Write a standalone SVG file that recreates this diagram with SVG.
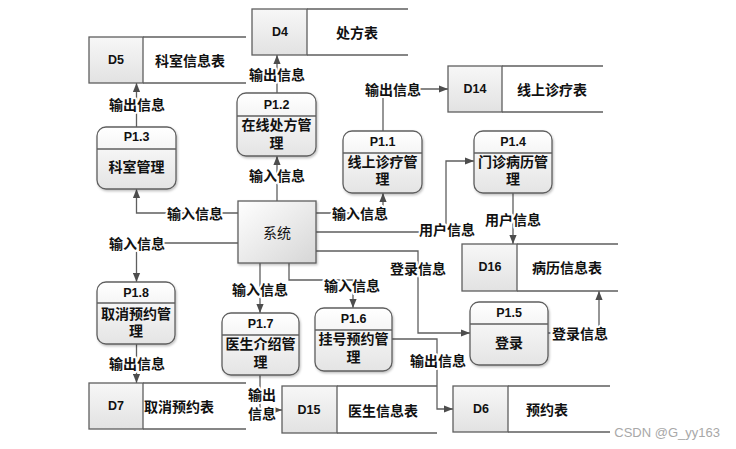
<svg xmlns="http://www.w3.org/2000/svg" width="736" height="449" viewBox="0 0 736 449">
<defs>
<linearGradient id="gp" x1="0" y1="0" x2="0" y2="1"><stop offset="0" stop-color="#ffffff"/><stop offset="1" stop-color="#e4e4e4"/></linearGradient>
<linearGradient id="gs" x1="0" y1="0" x2="1" y2="1"><stop offset="0" stop-color="#ffffff"/><stop offset="1" stop-color="#d6d6d6"/></linearGradient>
<linearGradient id="gd" x1="0" y1="0" x2="0" y2="1"><stop offset="0" stop-color="#f7f7f7"/><stop offset="1" stop-color="#e2e2e2"/></linearGradient>
<filter id="sh" x="-10%" y="-10%" width="130%" height="130%"><feDropShadow dx="1" dy="1.5" stdDeviation="1" flood-color="#000" flood-opacity="0.25"/></filter>
<marker id="ar" viewBox="0 0 10 8" refX="10" refY="4" markerWidth="9" markerHeight="8" markerUnits="userSpaceOnUse" orient="auto"><path d="M0,0 L10,4 L0,8 z" fill="#4d4d4d"/></marker>
<style>
.pr{fill:url(#gp);stroke:#5f5f5f;stroke-width:1.3;filter:url(#sh)}
.sy{fill:url(#gs);stroke:#5f5f5f;stroke-width:1.3;filter:url(#sh)}
.dl{fill:url(#gd);stroke:#5f5f5f;stroke-width:1.3}
.ln{stroke:#5f5f5f;stroke-width:1.3;fill:none}
.cn{stroke:#5f5f5f;stroke-width:1.3;fill:none;marker-end:url(#ar)}
.cx{stroke:#5f5f5f;stroke-width:1.3;fill:none}
text{font-family:"Noto Sans CJK SC","Liberation Sans",sans-serif;font-size:14px;fill:#111;text-anchor:middle;dominant-baseline:central}
.b{font-weight:bold}
.id{font-family:"Liberation Sans","Noto Sans CJK SC",sans-serif;font-weight:bold;font-size:12.5px}
.lb{font-weight:bold;paint-order:stroke;stroke:#fff;stroke-width:4px;stroke-linejoin:round}
.wm{font-family:"Liberation Sans",sans-serif;font-size:13px;fill:#a8a8a8;text-anchor:end}
</style>
</defs>
<rect width="736" height="449" fill="#fff"/>

<g id="connectors">
<path class="cn" d="M136.5,127 V83"/>
<path class="cn" d="M277,93 V55"/>
<path class="cn" d="M277,201 V156"/>
<path class="cn" d="M383,131 V89 H448"/>
<path class="cn" d="M316,213 H383 V193"/>
<path class="cn" d="M316,232 H446 V161 H474"/>
<path class="cn" d="M513,193 V244"/>
<path class="cn" d="M316,251 H418 V333 H470"/>
<path class="cn" d="M548,333 H599 V291"/>
<path class="cn" d="M238,213 H136.5 V189"/>
<path class="cn" d="M238,243 H136.5 V282"/>
<path class="cn" d="M136.5,344 V383"/>
<path class="cn" d="M260,263 V313"/>
<path class="cn" d="M289,263 V280 H353 V308"/>
<path class="cn" d="M260,375 V410 H282"/>
<path class="cn" d="M392,339 H437 V409 H453"/>
<text class="lb" x="137" y="104">输出信息</text>
<text class="lb" x="277" y="74">输出信息</text>
<text class="lb" x="277" y="175">输入信息</text>
<text class="lb" x="393" y="89">输出信息</text>
<text class="lb" x="360" y="213">输入信息</text>
<text class="lb" x="447" y="229">用户信息</text>
<text class="lb" x="513" y="219">用户信息</text>
<text class="lb" x="418" y="268">登录信息</text>
<text class="lb" x="580" y="333">登录信息</text>
<text class="lb" x="195" y="213">输入信息</text>
<text class="lb" x="137" y="243">输入信息</text>
<text class="lb" x="137" y="363">输出信息</text>
<text class="lb" x="260" y="289">输入信息</text>
<text class="lb" x="352" y="285">输入信息</text>
<text class="lb" x="262" y="394">输出</text>
<text class="lb" x="262" y="413">信息</text>
<text class="lb" x="438" y="360">输出信息</text>
</g>

<g id="D4">
<rect class="dl" x="252" y="9" width="55" height="46"/>
<path class="ln" d="M307,9 H408 M307,55 H408"/>
<text class="id" x="280" y="32">D4</text>
<text class="b" x="357" y="32">处方表</text>
</g>
<g id="D5">
<rect class="dl" x="89" y="37" width="54" height="46"/>
<path class="ln" d="M143,37 H246 M143,83 H246"/>
<text class="id" x="116" y="60">D5</text>
<text class="b" x="190" y="60">科室信息表</text>
</g>
<g id="D14">
<rect class="dl" x="448" y="66" width="54" height="46"/>
<path class="ln" d="M502,66 H603 M502,112 H603"/>
<text class="id" x="475" y="89">D14</text>
<text class="b" x="552" y="89">线上诊疗表</text>
</g>
<g id="D16">
<rect class="dl" x="462" y="244" width="55" height="47"/>
<path class="ln" d="M517,244 H618 M517,291 H618"/>
<text class="id" x="490" y="267">D16</text>
<text class="b" x="567" y="267">病历信息表</text>
</g>
<g id="D6">
<rect class="dl" x="453" y="386" width="55" height="46"/>
<path class="ln" d="M508,386 H610 M508,432 H610"/>
<text class="id" x="481" y="409">D6</text>
<text class="b" x="547" y="409">预约表</text>
</g>
<g id="D15">
<rect class="dl" x="282" y="386" width="55" height="47"/>
<path class="ln" d="M337,386 H437 M337,433 H437"/>
<text class="id" x="309" y="410">D15</text>
<text class="b" x="383" y="410">医生信息表</text>
</g>
<g id="D7">
<rect class="dl" x="89" y="383" width="54" height="46"/>
<path class="ln" d="M143,383 H246 M143,429 H246"/>
<text class="id" x="116" y="406">D7</text>
<text class="b" x="179" y="406">取消预约表</text>
</g>

<g id="sys">
<rect class="sy" x="238" y="201" width="78" height="62"/>
<text x="277" y="232">系统</text>
</g>

<g id="P1.3">
<rect class="pr" x="97" y="127" width="79" height="62" rx="9"/>
<path class="ln" d="M97,149 H176"/>
<text class="id" x="136.5" y="137">P1.3</text>
<text class="b" x="136.5" y="166">科室管理</text>
</g>
<g id="P1.2">
<rect class="pr" x="237" y="93" width="79" height="63" rx="9"/>
<path class="ln" d="M237,116 H316"/>
<text class="id" x="276.5" y="105">P1.2</text>
<text class="b" x="276.5" y="124">在线处方管</text>
<text class="b" x="276.5" y="142">理</text>
</g>
<g id="P1.1">
<rect class="pr" x="343" y="131" width="79" height="62" rx="9"/>
<path class="ln" d="M343,153 H422"/>
<text class="id" x="382.5" y="142">P1.1</text>
<text class="b" x="382.5" y="161">线上诊疗管</text>
<text class="b" x="382.5" y="178">理</text>
</g>
<g id="P1.4">
<rect class="pr" x="474" y="131" width="78" height="62" rx="9"/>
<path class="ln" d="M474,153 H552"/>
<text class="id" x="513" y="142">P1.4</text>
<text class="b" x="513" y="161">门诊病历管</text>
<text class="b" x="513" y="178">理</text>
</g>
<g id="P1.8">
<rect class="pr" x="97" y="282" width="78" height="62" rx="9"/>
<path class="ln" d="M97,303 H175"/>
<text class="id" x="136" y="293">P1.8</text>
<text class="b" x="136" y="313">取消预约管</text>
<text class="b" x="136" y="330">理</text>
</g>
<g id="P1.7">
<rect class="pr" x="222" y="313" width="77" height="62" rx="9"/>
<path class="ln" d="M222,335 H299"/>
<text class="id" x="260.5" y="324">P1.7</text>
<text class="b" x="260.5" y="343">医生介绍管</text>
<text class="b" x="260.5" y="361">理</text>
</g>
<g id="P1.6">
<rect class="pr" x="315" y="308" width="77" height="63" rx="9"/>
<path class="ln" d="M315,330 H392"/>
<text class="id" x="353.5" y="319">P1.6</text>
<text class="b" x="353.5" y="338">挂号预约管</text>
<text class="b" x="353.5" y="356">理</text>
</g>
<g id="P1.5">
<rect class="pr" x="470" y="302" width="78" height="63" rx="9"/>
<path class="ln" d="M470,324 H548"/>
<text class="id" x="509" y="313">P1.5</text>
<text class="b" x="509" y="342">登录</text>
</g>

<text class="wm" x="720" y="432">CSDN @G_yy163</text>
</svg>
